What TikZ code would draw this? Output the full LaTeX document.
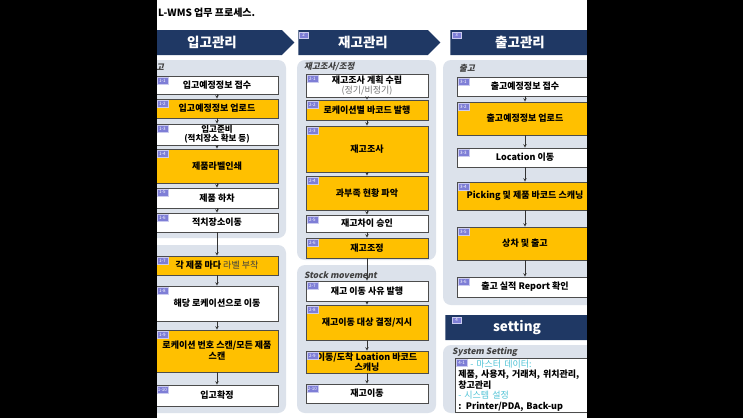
\documentclass[tikz,border=0pt]{standalone}
\usepackage{fontspec}
\setmainfont{Noto Sans CJK KR}
\newfontfamily\slfont[FakeSlant=0.2]{Noto Sans CJK KR}
\usetikzlibrary{shapes.symbols}

\definecolor{navy}{HTML}{1F3864}
\definecolor{panelbg}{HTML}{DCE2EB}
\definecolor{boxyellow}{HTML}{FFC000}
\definecolor{taglav}{HTML}{7E7ED6}
\definecolor{mastercyan}{HTML}{4FC3D6}

\tikzset{
  wbox/.style={draw=black!70, line width=0.6pt, fill=white, minimum width=122pt,
    font=\bfseries\fontsize{9}{10}\selectfont, align=center, inner sep=1pt},
  ybox/.style={wbox, fill=boxyellow},
  tagbox/.style={fill=taglav, draw=white!60!taglav, line width=0.4pt, text=white,
    font=\fontsize{4.5}{5}\selectfont, inner sep=0.5pt, minimum width=11pt,
    minimum height=7pt, anchor=north west},
  head/.style={shape=signal, signal to=east, signal pointer angle=90, fill=navy,
    text=white, font=\bfseries\fontsize{13.5}{15}\selectfont, minimum height=25pt, inner sep=0pt},
  panel/.style={fill=panelbg, rounded corners=8pt},
  sect/.style={font=\slfont\bfseries\fontsize{8.5}{9}\selectfont, text=black!75,
    anchor=west, inner sep=0pt},
  conn/.style={draw=black!80, line width=0.6pt, -stealth},
}

\begin{document}
\begin{tikzpicture}[x=1pt, y=-1pt]
  \useasboundingbox (0,0) rectangle (743,418);
  \fill[white] (0,0) rectangle (743,418);

  % title
  \node[anchor=west, inner sep=0pt, font=\bfseries\fontsize{10}{11}\selectfont] (title) at (158,13) {L-WMS 업무 프로세스.};

  % headers
  \node[head, minimum width=152pt] (h1) at (212,42.5) {입고관리};
  \node[head, minimum width=142pt] (h2) at (363,42.5) {재고관리};
  \node[head, minimum width=152pt] (h3) at (520,42.5) {출고관리};
  \node[head, minimum width=156pt] (h4) at (517,327.5) {setting};
  \node[tagbox, minimum width=9pt, minimum height=6pt] (th2) at (299,32) {2};
  \node[tagbox, minimum width=9pt, minimum height=6pt] (th3) at (452,32) {3};
  \node[tagbox, minimum width=9pt, minimum height=6pt] (th4) at (452,317) {4};

  % panels
  \fill[panel] (140,60) rectangle (286,238);
  \fill[panel] (140,245) rectangle (286,413);
  \fill[panel] (297,60) rectangle (436,260);
  \fill[panel] (297,265) rectangle (436,413);
  \fill[panel] (443,60) rectangle (610,305);
  \fill[panel] (443,345) rectangle (610,413);

  \node[sect] (s1) at (148,67) {입고};
  \node[sect] (s2) at (304,67) {재고조사/조정};
  \node[sect] (s3) at (304,275) {Stock movement};
  \node[sect] (s4) at (459,68) {출고};
  \node[sect] (s5) at (452,352) {System Setting};

  % 입고관리
  \node[wbox, minimum height=18pt] (a1) at (217,85) {입고예정정보 접수};
  \node[ybox, minimum height=19pt] (a2) at (217,108.5) {입고예정정보 업로드};
  \node[wbox, minimum height=21pt, font=\bfseries\fontsize{8.5}{9}\selectfont] (a3) at (217,134.5) {입고준비\\(적치장소 확보 등)};
  \node[ybox, minimum height=34pt] (a4) at (217,166) {제품라벨인쇄};
  \node[wbox, minimum height=20pt] (a5) at (217,198) {제품 하차};
  \node[wbox, minimum height=19pt] (a6) at (217,222.5) {적치장소이동};
  \node[ybox, minimum height=19pt] (a7) at (217,265.5) {각 제품 마다 {\mdseries\color{black!75}라벨 부착}};
  \node[wbox, minimum height=35pt] (a8) at (217,303.5) {해당 로케이션으로 이동};
  \node[ybox, minimum height=42pt, font=\bfseries\fontsize{9}{11}\selectfont] (a9) at (217,351) {로케이션 번호 스캔/모든 제품\\스캔};
  \node[wbox, minimum height=21pt] (a10) at (217,395.5) {입고확정};

  % 재고관리
  \node[wbox, minimum height=23pt, font=\bfseries\fontsize{9}{9.5}\selectfont] (b1) at (367,85.5) {재고조사 계획 수립\\{\mdseries\color{black!55}(정기/비정기)}};
  \node[ybox, minimum height=20pt] (b2) at (367,110) {로케이션별 바코드 발행};
  \node[ybox, minimum height=46pt] (b3) at (367,149) {재고조사};
  \node[ybox, minimum height=34pt] (b4) at (367,193) {과부족 현황 파악};
  \node[wbox, minimum height=17pt] (b5) at (367,223.5) {재고차이 승인};
  \node[ybox, minimum height=20pt] (b6) at (367,248) {재고조정};
  \node[wbox, minimum height=20pt] (b7) at (367,291) {재고 이동 사유 발행};
  \node[ybox, minimum height=35pt] (b8) at (367,322.5) {재고이동 대상 결정/지시};
  \node[ybox, minimum height=22pt, font=\bfseries\fontsize{9}{9.5}\selectfont] (b9) at (367,362) {이동/도착 Loation 바코드\\스캐닝};
  \node[wbox, minimum height=19pt] (b10) at (367,393.5) {재고이동};

  % 출고관리
  \node[wbox, minimum width=136pt, minimum height=19pt] (c1) at (525,86.5) {출고예정정보 접수};
  \node[ybox, minimum width=136pt, minimum height=33pt] (c2) at (525,118.5) {출고예정정보 업로드};
  \node[wbox, minimum width=136pt, minimum height=19pt] (c3) at (525,157.5) {Location 이동};
  \node[ybox, minimum width=136pt, minimum height=28pt] (c4) at (525,196) {Picking 및 제품 바코드 스캐닝};
  \node[ybox, minimum width=136pt, minimum height=33pt] (c5) at (525,243.5) {상차 및 출고};
  \node[wbox, minimum width=136pt, minimum height=20pt] (c6) at (525,287) {출고 실적 Report 확인};

  % setting
  \node[wbox, anchor=north west, align=left, text width=150pt, inner xsep=3pt, inner ysep=1.5pt,
    font=\bfseries\fontsize{9}{10.5}\selectfont] (d1) at (455,358)
    {\hspace*{12pt}{\mdseries\color{mastercyan}- 마스터 데이터:}\\
     제품, 사용자, 거래처, 위치관리,\\
     창고관리\\
     {\mdseries\color{mastercyan}- 시스템 설정}\\
     : Printer/PDA, Back-up};

  \foreach \n/\t in {a1/1-1, a2/1-2, a3/1-3, a4/1-4, a5/1-5, a6/1-6, a7/1-7, a8/1-8, a9/1-9, a10/1-10,
      b1/2-1, b2/2-2, b3/2-3, b4/2-4, b5/2-5, b6/2-6, b7/2-7, b8/2-8, b9/2-9, b10/2-10,
      c1/3-1, c2/3-2, c3/3-3, c4/3-4, c5/3-5, c6/3-6, d1/4-1}
    \node[tagbox] (t\n) at ([shift={(1pt,-1pt)}]\n.north west) {\t};

  \foreach \p/\q in {a1/a2, a2/a3, a3/a4, a4/a5, a5/a6, a6/a7, a7/a8, a8/a9, a9/a10,
      b1/b2, b2/b3, b3/b4, b4/b5, b5/b6, b6/b7, b7/b8, b8/b9, b9/b10,
      c1/c2, c2/c3, c3/c4, c4/c5, c5/c6}
    \draw[conn] (\p) -- (\q);

  % letterbox
  \fill[black] (0,0) rectangle (157,418);
  \fill[black] (587,0) rectangle (743,418);
\end{tikzpicture}
\end{document}
